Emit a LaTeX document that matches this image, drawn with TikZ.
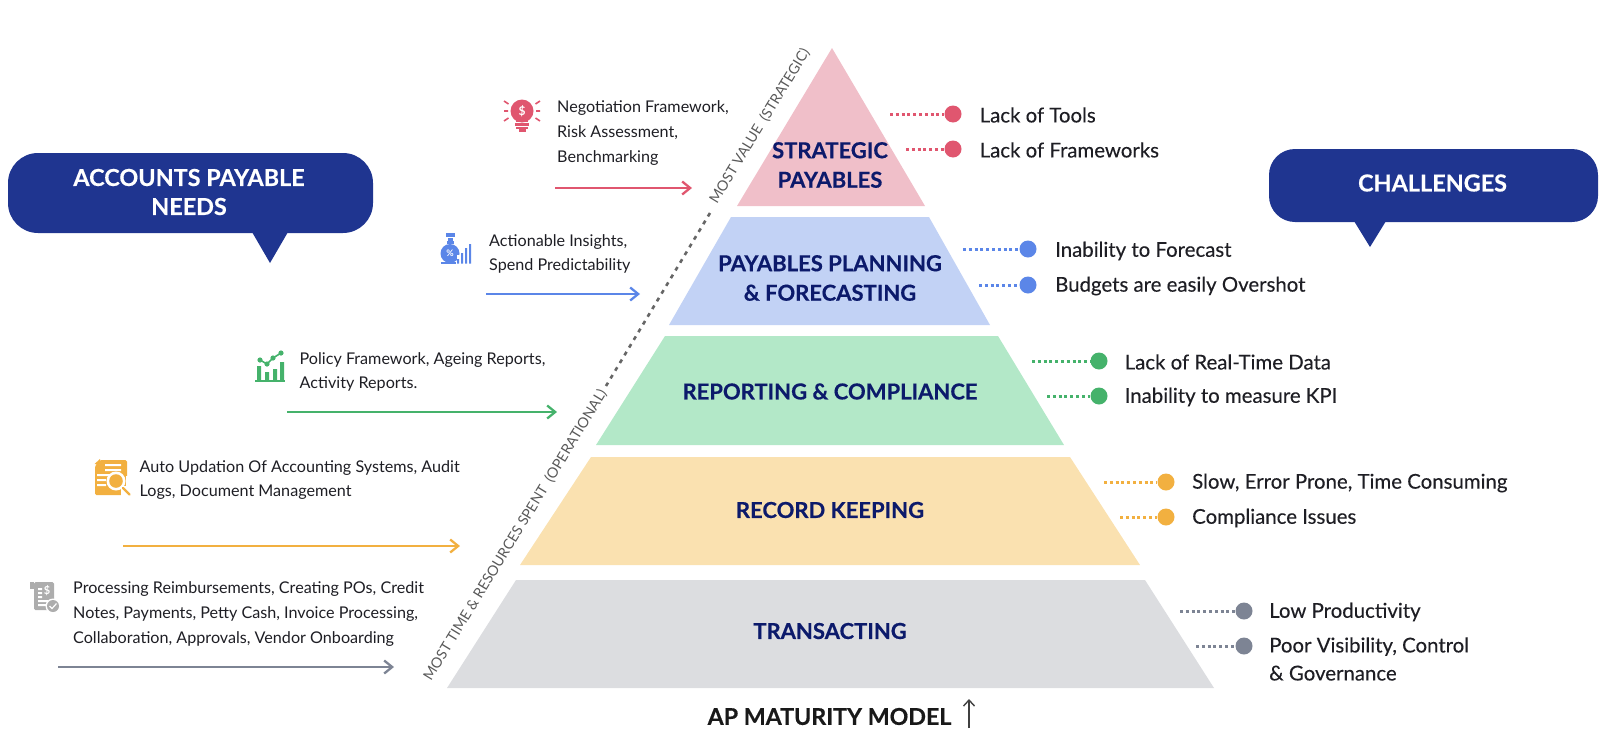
\documentclass[tikz,border=0pt]{standalone}
\usepackage{fontspec}
\setmainfont{Lato}
\newfontfamily\medf[FakeBold=0.2]{Lato}
\newfontfamily\hvf[BoldFeatures={FakeBold=0.4}]{Lato}
\usetikzlibrary{arrows.meta,shapes.geometric}
\definecolor{navy}{HTML}{0C1A6B}
\definecolor{bub}{HTML}{1F3590}
\definecolor{cP}{HTML}{E0566F}\definecolor{fP}{HTML}{F0BFC9}
\definecolor{cB}{HTML}{5B86E8}\definecolor{fB}{HTML}{C2D2F5}
\definecolor{cG}{HTML}{45B26B}\definecolor{fG}{HTML}{B3E8C8}
\definecolor{cY}{HTML}{F2B040}\definecolor{fY}{HTML}{FAE1B0}
\definecolor{cK}{HTML}{7D8494}\definecolor{fK}{HTML}{DCDDE0}
\definecolor{ink}{HTML}{1E1E24}
\tikzset{
  x=1pt,y=-1pt,
  tier/.style={font=\fontsize{22}{29.5}\selectfont\hvf\bfseries,text=navy,align=center,inner sep=0pt},
  dotnode/.style={circle,fill=#1,minimum size=17,inner sep=0pt},
  leader/.style={draw=#1,line width=3pt,dash pattern=on 3pt off 2.8pt},
  chal/.style={anchor=west,font=\fontsize{20.4}{28}\selectfont\medf,text=ink,align=left,inner sep=0pt},
  need/.style={anchor=north west,font=\fontsize{16.15}{24.8}\selectfont,text=ink,align=left,inner sep=0pt},
  needarrow/.style={draw=#1,line width=2.3pt,-{Straight Barb[length=8pt,width=13pt,line width=2.3pt]}},
  bubble/.style={fill=bub,inner sep=0pt},
  bubtext/.style={font=\fontsize{23.4}{29}\selectfont\hvf\bfseries,text=white,align=center,inner sep=0pt},
  diag/.style={font=\fontsize{14.3}{16}\selectfont,text=black!65,rotate=58.6,inner sep=0pt,anchor=south west}
}
\begin{document}
\begin{tikzpicture}
\useasboundingbox (0,0) rectangle (1600,742);
% pyramid
\fill[fP] (832,48) -- (925,206) -- (737,206) -- cycle;
\fill[fB] (731,217) -- (929,217) -- (990,325) -- (669,325) -- cycle;
\fill[fG] (665,336) -- (998,336) -- (1064,445) -- (596,445) -- cycle;
\fill[fY] (591,457) -- (1070,457) -- (1140,565) -- (520,565) -- cycle;
\fill[fK] (516,580) -- (1145,580) -- (1214,688) -- (447,688) -- cycle;
\node[tier] (t1) at (830,165) {STRATEGIC\\PAYABLES};
\node[tier] (t2) at (830,278) {PAYABLES PLANNING\\\& FORECASTING};
\node[tier] (t3) at (830,391.5) {REPORTING \& COMPLIANCE};
\node[tier] (t4) at (830,510) {RECORD KEEPING};
\node[tier] (t5) at (830,631) {TRANSACTING};
% diagonal
\coordinate (da) at (710,213);
\coordinate (db) at (606,386);
\draw[black!60,line width=2.6pt,dash pattern=on 4pt off 5pt] (da) -- (db);
\node[diag] (dt1) at (719,206) {MOST VALUE\ \ (STRATEGIC)};
\node[diag] (dt2) at (433,683) {MOST TIME \& RESOURCES SPENT\ \ (OPERATIONAL)};
% challenges
\foreach \nm/\col/\sx/\dx/\dy/\tx/\ty/\txt in {
 a/cP/890/953/114/979.5/115/Lack of Tools,
 b/cP/906/953/149/979.5/150/Lack of Frameworks,
 c/cB/963/1028/249/1055/251/Inability to Forecast,
 d/cB/979/1028/285/1055/286/Budgets are easily Overshot,
 e/cG/1032/1099/361/1124.5/362/Lack of Real-Time Data,
 f/cG/1047/1099/396/1124.5/397/Inability to measure KPI,
 g/cY/1104/1166/482/1192/483/{Slow, Error Prone, Time Consuming},
 h/cY/1120/1166/517/1192/518/Compliance Issues,
 i/cK/1180/1244/611/1269/612/Low Productivity}{
  \node[dotnode=\col] (dot\nm) at (\dx,\dy) {};
  \coordinate (st\nm) at (\sx,\dy);
  \draw[leader=\col] (st\nm) -- (dot\nm);
  \node[chal] (lab\nm) at (\tx,\ty) {\txt};
}
\node[dotnode=cK] (dotj) at (1244,646) {};
\coordinate (stj) at (1196,646);
\draw[leader=cK] (stj) -- (dotj);
\node[chal] (labj) at (1269,659) {Poor Visibility, Control\\\& Governance};
% needs text
\node[need] (n1) at (557,100.5) {Negotiation Framework,\\Risk Assessment,\\Benchmarking};
\node[need] (n2) at (489,234) {Actionable Insights,\\Spend Predictability};
\node[need] (n3) at (299.5,352) {Policy Framework, Ageing Reports,\\Activity Reports.};
\node[need] (n4) at (139.5,460) {Auto Updation Of Accounting Systems, Audit\\Logs, Document Management};
\node[need] (n5) at (73,581.5) {Processing Reimbursements, Creating POs, Credit\\Notes, Payments, Petty Cash, Invoice Processing,\\Collaboration, Approvals, Vendor Onboarding};
% need arrows
\coordinate (a1s) at (555,188); \coordinate (a1e) at (692,188);
\coordinate (a2s) at (486,294); \coordinate (a2e) at (640,294);
\coordinate (a3s) at (287,412); \coordinate (a3e) at (557,412);
\coordinate (a4s) at (123,546); \coordinate (a4e) at (460,546);
\coordinate (a5s) at (58,667);  \coordinate (a5e) at (394,667);
\draw[needarrow=cP] (a1s) -- (a1e);
\draw[needarrow=cB] (a2s) -- (a2e);
\draw[needarrow=cG] (a3s) -- (a3e);
\draw[needarrow=cY] (a4s) -- (a4e);
\draw[needarrow=cK] (a5s) -- (a5e);
% bubbles
\fill[bub] (252,232) -- (288,232) -- (270,263) -- cycle;
\node[bubble,rounded corners=30pt,minimum width=365,minimum height=80] (bl) at (190.5,193) {};
\node[bubtext] (blt) at (189,192) {ACCOUNTS PAYABLE\\NEEDS};
\fill[bub] (1354,221) -- (1386,221) -- (1370,247) -- cycle;
\node[bubble,rounded corners=26pt,minimum width=329,minimum height=73] (br) at (1433.5,185.5) {};
\node[bubtext] (brt) at (1432.5,183) {CHALLENGES};
% bottom
\node[font=\fontsize{23.2}{26}\selectfont\hvf\bfseries,text=black!90,inner sep=0pt] (ap) at (829.5,716.5) {AP MATURITY MODEL};
\coordinate (ua) at (969,728); \coordinate (ub) at (969,699);
\draw[black!75,line width=1.4pt,-{Straight Barb[length=6pt,width=11pt,line width=1.4pt]}] (ua) -- (ub);
% icon: bulb
\begin{scope}[shift={(522,111)}]
 \fill[cP] (0,0) circle (11.5);
 \fill[cP] (-6,8) rectangle (6,11);
 \fill[cP] (-7,12) rectangle (7,14.5);
 \fill[cP] (-6,15.5) rectangle (6,18);
 \fill[cP] (-3.5,18) rectangle (3.5,20.5);
 \node[text=white,font=\fontsize{12}{12}\selectfont\bfseries,inner sep=0pt] (ic1) at (0,0) {\$};
 \draw[cP,line width=1.6pt] (-14,0) -- (-18,0) (14,0) -- (18,0)
   (-13.5,-7) -- (-18,-10) (13.5,-7) -- (18,-10) (-13.5,7) -- (-18,10) (13.5,7) -- (18,10);
\end{scope}
% icon: money bag
\begin{scope}[shift={(451,248)}]
 \fill[cB] (-5,-15) rectangle (4,-11);
 \fill[cB] (-3,-10) rectangle (2,-7);
 \fill[cB] (-4,-7) rectangle (3,-4);
 \fill[cB] (-1,5.5) circle (9.5);
 \fill[cB] (-10,13.5) rectangle (5,15.5);
 \node[text=white,font=\fontsize{9}{9}\selectfont\bfseries,inner sep=0pt] (ic2) at (-1,5) {\%};
 \fill[white] (5.5,7) rectangle (9,16);
 \fill[cB] (6,11) rectangle (8,15.5) (10,5) rectangle (12,15.5) (14,0) rectangle (16,15.5) (18,-4) rectangle (20,15.5);
\end{scope}
% icon: chart
\begin{scope}[shift={(270,366)}]
 \fill[cG] (-15,14) rectangle (15,15.5);
 \fill[cG] (-13,0) rectangle (-9,14) (-5,6) rectangle (-1,14) (3,3) rectangle (7,14) (10,-4) rectangle (14,14);
 \draw[cG,line width=1.6pt] (-10,-6) -- (-3,-2) -- (3,-8) -- (11,-13);
 \fill[cG] (-10,-6) circle (2.6) (-3,-2) circle (2.6) (3,-8) circle (2.6) (11,-13) circle (2.6);
\end{scope}
% icon: document search
\begin{scope}[shift={(112,478)}]
 \fill[cY,rounded corners=1.5pt] (-12,-18) -- (15,-18) -- (15,17) -- (-17,17) -- (-17,-12) -- cycle;
 \fill[white] (-16,-14.5) -- (-18,-18) -- (-12.5,-18.5) -- (-12.5,-14) -- cycle;
 \fill[cY] (-17.5,-14) -- (-12,-19) -- (-12,-14) -- cycle;
 \fill[white] (-7,-14) rectangle (9,-12) (-7,-9) rectangle (9,-7);
 \fill[white] (-15,-4) rectangle (-2,-2) (-15,1) rectangle (-6,3) (-15,6) rectangle (-6,8);
 \fill[white] (4,3) circle (9.5);
 \fill[cY] (4,3) circle (6.8);
 \fill[white] (9,8) rectangle (24,20);
 \fill[white] (14,-2) rectangle (24,20);
 \draw[cY,line width=2.4pt,line cap=round] (11,10) -- (17.5,16.5);
\end{scope}
% icon: receipt
\begin{scope}[shift={(44,597)}]
 \fill[black!32,rounded corners=1.5pt] (-10,-15) rectangle (10,13);
 \fill[black!32] (-14,-15) rectangle (-10,-8);
 \fill[white] (-6,-9) rectangle (-2,-7) (-6,-5) rectangle (-2,-3) (-6,-1) rectangle (-2,1) (-6,3) rectangle (4,5) (-6,7) rectangle (2,9);
 \node[text=white,font=\fontsize{11}{11}\selectfont\bfseries,inner sep=0pt] (ic5) at (3,-6) {\$};
 \fill[white] (9,9) circle (7.5);
 \fill[black!32] (9,9) circle (6);
 \draw[white,line width=1.2pt] (5.5,9) -- (8,11.5) -- (12.5,6.5);
\end{scope}
\end{tikzpicture}
\end{document}
